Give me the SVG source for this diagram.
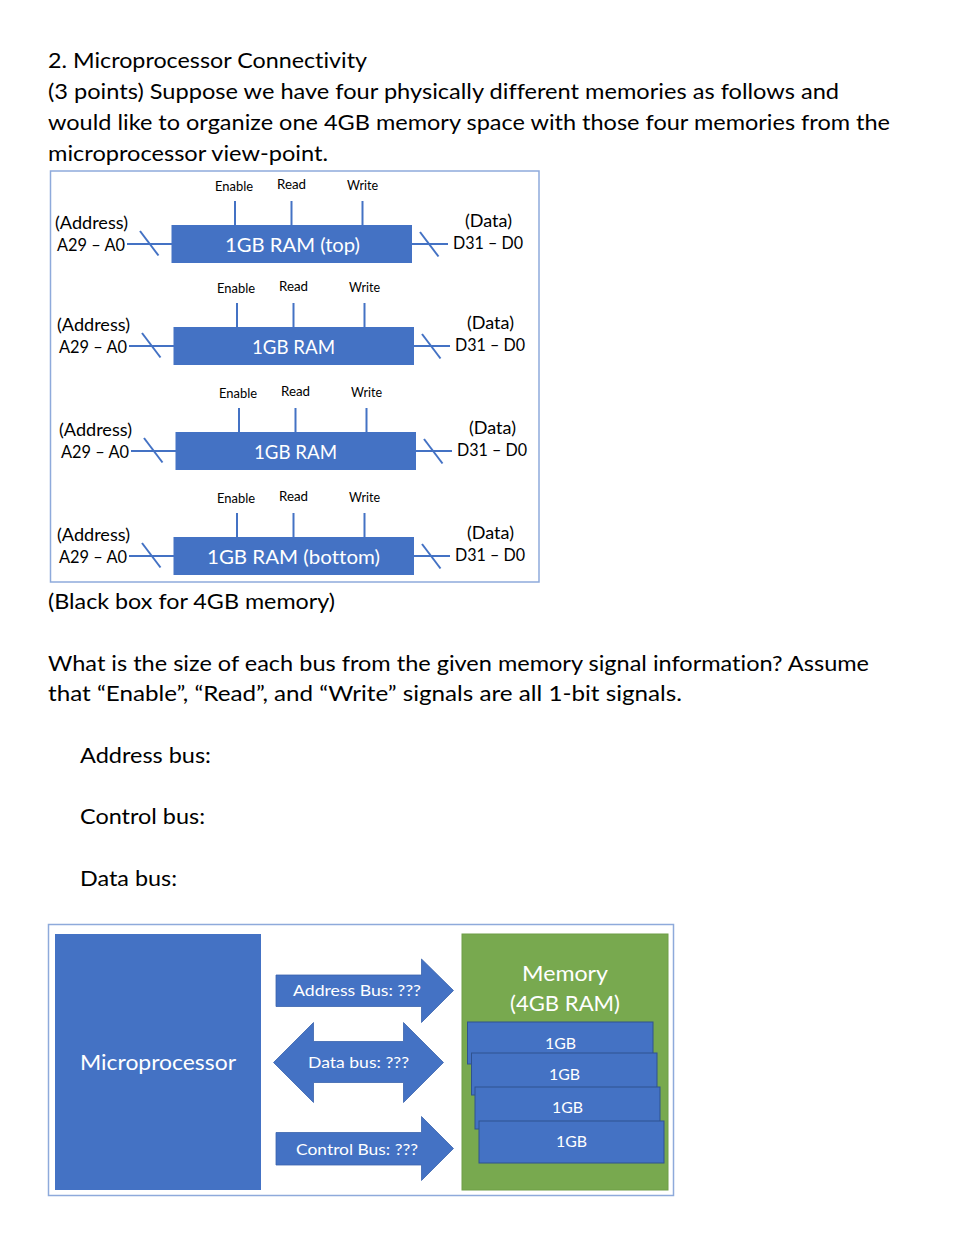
<svg xmlns="http://www.w3.org/2000/svg" width="972" height="1252" viewBox="0 0 972 1252">
<style>
  text { font-variant-ligatures: none; font-feature-settings: "liga" 0, "clig" 0, "dlig" 0; }
  .t { font-family: Lato, "Open Sans", "Liberation Sans", sans-serif; fill: #000; }
  .body { font-size: 21.5px; }
  .lab { font-size: 16.5px; }
  .sig { font-size: 12.5px; }
  .w { fill: #fff; font-family: Lato, "Open Sans", "Liberation Sans", sans-serif; }
  .blue { fill: #4472c4; }
  .ln { stroke: #4472c4; stroke-width: 2; fill: none; }
  .frame { fill: none; stroke: #8eaadb; stroke-width: 1.5; }
  .arr { fill: #4472c4; stroke: #3a63ad; stroke-width: 0.8; }
  .mb { fill: #4472c4; stroke: #2f528f; stroke-width: 1; }
</style>
<defs>
  <g id="wires">
    <line class="ln" x1="235" y1="201" x2="235" y2="225"/>
    <line class="ln" x1="291.5" y1="201" x2="291.5" y2="225"/>
    <line class="ln" x1="362.5" y1="201" x2="362.5" y2="225"/>
    <line class="ln" x1="127" y1="244" x2="172" y2="244"/>
    <line class="ln" x1="140" y1="231" x2="158.5" y2="255.5"/>
    <line class="ln" x1="411" y1="244" x2="448" y2="244"/>
    <line class="ln" x1="420" y1="232" x2="438.5" y2="256.5"/>
  </g>
  <g id="labels">
    <text class="t sig" x="215" y="191" textLength="38" lengthAdjust="spacingAndGlyphs">Enable</text>
    <text class="t sig" x="277" y="189" textLength="29" lengthAdjust="spacingAndGlyphs">Read</text>
    <text class="t sig" x="347" y="190" textLength="31" lengthAdjust="spacingAndGlyphs">Write</text>
    <text class="t lab" x="55" y="229" textLength="73" lengthAdjust="spacingAndGlyphs">(Address)</text>
    <text class="t lab" x="57" y="251" textLength="68" lengthAdjust="spacingAndGlyphs">A29 – A0</text>
    <text class="t lab" x="465" y="227" textLength="47" lengthAdjust="spacingAndGlyphs">(Data)</text>
    <text class="t lab" x="453" y="249" textLength="70" lengthAdjust="spacingAndGlyphs">D31 – D0</text>
  </g>
</defs>

<g id="question-text">
  <text class="t body" x="48" y="68" textLength="319" lengthAdjust="spacingAndGlyphs">2. Microprocessor Connectivity</text>
  <text class="t body" x="48" y="99" textLength="791" lengthAdjust="spacingAndGlyphs">(3 points) Suppose we have four physically different memories as follows and</text>
  <text class="t body" x="48" y="130" textLength="842" lengthAdjust="spacingAndGlyphs">would like to organize one 4GB memory space with those four memories from the</text>
  <text class="t body" x="48" y="161" textLength="280" lengthAdjust="spacingAndGlyphs">microprocessor view-point.</text>
</g>

<g id="blackbox">
  <rect class="frame" x="50.5" y="171" width="488.5" height="411"/>
</g>

<g id="ram-top">
  <use href="#wires"/>
  <rect class="blue" x="171.5" y="225" width="240.5" height="38"/>
  <text class="w" x="225" y="251.5" font-size="20" textLength="135" lengthAdjust="spacingAndGlyphs">1GB RAM (top)</text>
  <use href="#labels"/>
</g>

<g id="ram-2" transform="translate(2,102)">
  <use href="#wires"/>
  <rect class="blue" x="171.5" y="225" width="240.5" height="38"/>
  <text class="w" x="250" y="251.5" font-size="20" textLength="83" lengthAdjust="spacingAndGlyphs">1GB RAM</text>
  <use href="#labels"/>
</g>

<g id="ram-3" transform="translate(4,207)">
  <use href="#wires"/>
  <rect class="blue" x="171.5" y="225" width="240.5" height="38"/>
  <text class="w" x="250" y="251.5" font-size="20" textLength="83" lengthAdjust="spacingAndGlyphs">1GB RAM</text>
  <use href="#labels"/>
</g>

<g id="ram-bottom" transform="translate(2,312)">
  <use href="#wires"/>
  <rect class="blue" x="171.5" y="225" width="240.5" height="38"/>
  <text class="w" x="205" y="251.5" font-size="20" textLength="173" lengthAdjust="spacingAndGlyphs">1GB RAM (bottom)</text>
  <use href="#labels"/>
</g>

<g id="body-text">
  <text class="t body" x="48" y="609" textLength="287" lengthAdjust="spacingAndGlyphs">(Black box for 4GB memory)</text>
  <text class="t body" x="48" y="671" textLength="821" lengthAdjust="spacingAndGlyphs">What is the size of each bus from the given memory signal information? Assume</text>
  <text class="t body" x="48" y="701" textLength="634" lengthAdjust="spacingAndGlyphs">that “Enable”, “Read”, and “Write” signals are all 1-bit signals.</text>
  <text class="t body" x="80" y="763" textLength="131" lengthAdjust="spacingAndGlyphs">Address bus:</text>
  <text class="t body" x="80" y="824" textLength="125" lengthAdjust="spacingAndGlyphs">Control bus:</text>
  <text class="t body" x="80" y="886" textLength="97" lengthAdjust="spacingAndGlyphs">Data bus:</text>
</g>

<g id="system-frame">
  <rect class="frame" x="48.5" y="924.5" width="625" height="271"/>
</g>

<g id="microprocessor">
  <rect class="blue" x="55" y="934" width="206" height="256"/>
  <text class="w" x="80" y="1070" font-size="22" textLength="156" lengthAdjust="spacingAndGlyphs">Microprocessor</text>
</g>

<g id="connectors">
  <g id="address-bus">
    <polygon class="arr" points="276,975 421.5,975 421.5,959 453.5,990.5 421.5,1022.5 421.5,1006.5 276,1006.5"/>
    <text class="w" x="293" y="996" font-size="16" textLength="128" lengthAdjust="spacingAndGlyphs">Address Bus: ???</text>
  </g>
  <g id="data-bus">
    <polygon class="arr" points="273.5,1062.5 313.5,1022.5 313.5,1041.5 403.5,1041.5 403.5,1022.5 443.5,1062.5 403.5,1102.5 403.5,1082.5 313.5,1082.5 313.5,1102.5"/>
    <text class="w" x="308" y="1068" font-size="16" textLength="101" lengthAdjust="spacingAndGlyphs">Data bus: ???</text>
  </g>
  <g id="control-bus">
    <polygon class="arr" points="276,1132.5 421.5,1132.5 421.5,1116.5 453.5,1148.5 421.5,1180.5 421.5,1165 276,1165"/>
    <text class="w" x="296" y="1155" font-size="16" textLength="122" lengthAdjust="spacingAndGlyphs">Control Bus: ???</text>
  </g>
</g>

<g id="memory">
  <rect x="462" y="934" width="206" height="256" fill="#78a94f" stroke="#6f9e47" stroke-width="1"/>
  <text class="w" x="522" y="981" font-size="22" textLength="86" lengthAdjust="spacingAndGlyphs">Memory</text>
  <text class="w" x="510" y="1011" font-size="22" textLength="110" lengthAdjust="spacingAndGlyphs">(4GB RAM)</text>
  <rect class="mb" x="467.5" y="1022" width="185.5" height="42"/>
  <text class="w" x="545" y="1049" font-size="16" textLength="31" lengthAdjust="spacingAndGlyphs">1GB</text>
  <rect class="mb" x="471.5" y="1053" width="185.5" height="42"/>
  <text class="w" x="549" y="1080" font-size="16" textLength="31" lengthAdjust="spacingAndGlyphs">1GB</text>
  <rect class="mb" x="475" y="1087" width="185" height="42"/>
  <text class="w" x="552" y="1113" font-size="16" textLength="31" lengthAdjust="spacingAndGlyphs">1GB</text>
  <rect class="mb" x="479" y="1121" width="185" height="42"/>
  <text class="w" x="556" y="1147" font-size="16" textLength="31" lengthAdjust="spacingAndGlyphs">1GB</text>
</g>
</svg>
